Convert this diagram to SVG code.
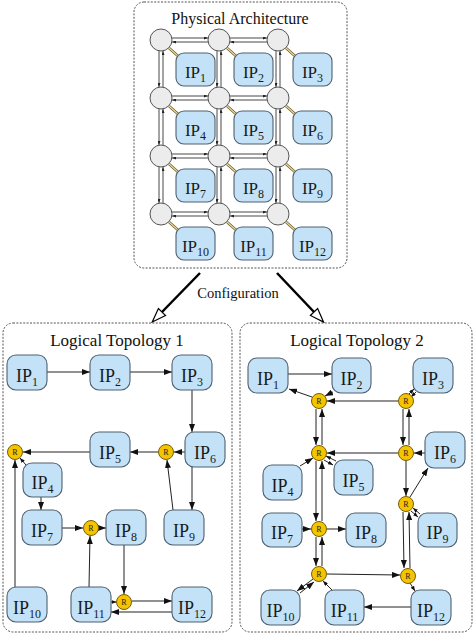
<svg xmlns="http://www.w3.org/2000/svg" width="474" height="635" viewBox="0 0 474 635" font-family="Liberation Serif, Tinos, Times New Roman, DejaVu Serif, Noto Serif, serif">
<style>
.frame{fill:#fff;stroke:#555;stroke-width:1;stroke-dasharray:2 1.4}
.title{font-size:17px;fill:#111;text-anchor:middle}
.ip rect{fill:#c3e2f7;stroke:#4f6070;stroke-width:1.1}
.ip text{font-size:18px;fill:#1a1a1a;text-anchor:middle}
.ip tspan{font-size:12px}
.pr circle{fill:#ececec;stroke:#555;stroke-width:1}
.r circle{fill:#f5c400;stroke:#7a5c00;stroke-width:1}
.r text{font-size:8px;fill:#222;text-anchor:middle}
.pl{stroke:#333;stroke-width:0.9;fill:none;marker-end:url(#ta)}
.pi1{stroke:#6a5a30;stroke-width:2.6;fill:none}
.pi2{stroke:#f0dc90;stroke-width:1.1;fill:none}
.e{stroke:#222;stroke-width:1;fill:none;marker-end:url(#a)}
.es{stroke:#222;stroke-width:1;fill:none;marker-end:url(#as)}
.cfg{stroke:#000;stroke-width:2.5;fill:none;marker-end:url(#h)}
</style>
<defs>
<marker id="a" markerUnits="userSpaceOnUse" markerWidth="8" markerHeight="6" refX="8" refY="3" orient="auto"><path d="M0,0 L8,3 L0,6 z" fill="#111"/></marker>
<marker id="as" markerUnits="userSpaceOnUse" markerWidth="5" markerHeight="4" refX="5" refY="2" orient="auto"><path d="M0,0 L5,2 L0,4 z" fill="#111"/></marker>
<marker id="ta" markerUnits="userSpaceOnUse" markerWidth="4" markerHeight="3" refX="4" refY="1.5" orient="auto"><path d="M0,0 L4,1.5 L0,3 z" fill="#222"/></marker>
<marker id="h" markerUnits="userSpaceOnUse" markerWidth="16" markerHeight="12" refX="1" refY="6" orient="auto"><path d="M1,1 L15,6 L1,11 z" fill="#fff" stroke="#000" stroke-width="1.2"/></marker>
</defs>

<g id="frames">
<rect class="frame" x="134" y="2" width="213" height="266" rx="10"/>
<rect class="frame" x="3" y="323" width="229" height="309" rx="10"/>
<rect class="frame" x="240" y="323" width="232" height="309" rx="10"/>
<text class="title" x="240" y="24" style="font-size:16px">Physical Architecture</text>
<text class="title" x="117" y="346">Logical Topology 1</text>
<text class="title" x="357" y="346">Logical Topology 2</text>
<text class="title" x="238" y="298" style="font-size:14.5px">Configuration</text>
</g>

<g id="connectors">
<line class="cfg" x1="200" y1="273" x2="162" y2="312"/>
<line class="cfg" x1="277" y1="273" x2="314" y2="312"/>

<line class="pl" x1="172" y1="38" x2="208" y2="38"/><line class="pl" x1="208" y1="42" x2="172" y2="42"/>
<line class="pl" x1="230" y1="38" x2="267" y2="38"/><line class="pl" x1="267" y1="42" x2="230" y2="42"/>
<line class="pl" x1="172" y1="96" x2="208" y2="96"/><line class="pl" x1="208" y1="100" x2="172" y2="100"/>
<line class="pl" x1="230" y1="96" x2="267" y2="96"/><line class="pl" x1="267" y1="100" x2="230" y2="100"/>
<line class="pl" x1="172" y1="154" x2="208" y2="154"/><line class="pl" x1="208" y1="158" x2="172" y2="158"/>
<line class="pl" x1="230" y1="154" x2="267" y2="154"/><line class="pl" x1="267" y1="158" x2="230" y2="158"/>
<line class="pl" x1="172" y1="212" x2="208" y2="212"/><line class="pl" x1="208" y1="216" x2="172" y2="216"/>
<line class="pl" x1="230" y1="212" x2="267" y2="212"/><line class="pl" x1="267" y1="216" x2="230" y2="216"/>
<line class="pl" x1="159" y1="51" x2="159" y2="87"/><line class="pl" x1="163" y1="87" x2="163" y2="51"/>
<line class="pl" x1="159" y1="109" x2="159" y2="145"/><line class="pl" x1="163" y1="145" x2="163" y2="109"/>
<line class="pl" x1="159" y1="167" x2="159" y2="203"/><line class="pl" x1="163" y1="203" x2="163" y2="167"/>
<line class="pl" x1="217" y1="51" x2="217" y2="87"/><line class="pl" x1="221" y1="87" x2="221" y2="51"/>
<line class="pl" x1="217" y1="109" x2="217" y2="145"/><line class="pl" x1="221" y1="145" x2="221" y2="109"/>
<line class="pl" x1="217" y1="167" x2="217" y2="203"/><line class="pl" x1="221" y1="203" x2="221" y2="167"/>
<line class="pl" x1="276" y1="51" x2="276" y2="87"/><line class="pl" x1="280" y1="87" x2="280" y2="51"/>
<line class="pl" x1="276" y1="109" x2="276" y2="145"/><line class="pl" x1="280" y1="145" x2="280" y2="109"/>
<line class="pl" x1="276" y1="167" x2="276" y2="203"/><line class="pl" x1="280" y1="203" x2="280" y2="167"/>
<path class="pi1" d="M169,48 L178,56 M227,48 L236,56 M286,48 L295,56 M169,106 L178,114 M227,106 L236,114 M286,106 L295,114 M169,164 L178,172 M227,164 L236,172 M286,164 L295,172 M169,222 L178,230 M227,222 L236,230 M286,222 L295,230"/>
<path class="pi2" d="M169,48 L178,56 M227,48 L236,56 M286,48 L295,56 M169,106 L178,114 M227,106 L236,114 M286,106 L295,114 M169,164 L178,172 M227,164 L236,172 M286,164 L295,172 M169,222 L178,230 M227,222 L236,230 M286,222 L295,230"/>

<line class="e" x1="47" y1="372" x2="90" y2="372"/>
<line class="e" x1="130" y1="372" x2="172" y2="372"/>
<line class="e" x1="192" y1="390" x2="192" y2="432"/>
<line class="e" x1="185" y1="452" x2="174" y2="452"/>
<line class="e" x1="158" y1="452" x2="130" y2="452"/>
<line class="e" x1="90" y1="452" x2="23" y2="452"/>
<line class="es" x1="26" y1="465" x2="20" y2="458"/>
<line class="e" x1="15" y1="587" x2="15" y2="460"/>
<line class="e" x1="41" y1="497" x2="41" y2="510"/>
<line class="e" x1="192" y1="467" x2="192" y2="510"/>
<line class="e" x1="173" y1="510" x2="167" y2="460"/>
<line class="e" x1="62" y1="528" x2="83" y2="528"/>
<line class="e" x1="99" y1="528" x2="106" y2="528"/>
<line class="e" x1="89" y1="587" x2="90" y2="536"/>
<line class="e" x1="124" y1="545" x2="124" y2="594"/>
<line class="e" x1="132" y1="601" x2="172" y2="601"/>
<line class="e" x1="172" y1="612" x2="111" y2="612"/>
<line class="es" x1="110" y1="602" x2="116.5" y2="602"/>

<line class="e" x1="288" y1="374" x2="332" y2="374"/>
<line class="e" x1="333" y1="392" x2="325" y2="396"/>
<line class="e" x1="312" y1="397" x2="289" y2="389"/>
<line class="e" x1="398" y1="401" x2="327" y2="401"/>
<line class="es" x1="416" y1="392" x2="411" y2="397"/>
<line class="es" x1="409" y1="394" x2="414" y2="389"/>
<line class="e" x1="316" y1="409" x2="316" y2="445"/>
<line class="e" x1="322" y1="445" x2="322" y2="409"/>
<line class="e" x1="403" y1="409" x2="403" y2="445"/>
<line class="e" x1="409" y1="445" x2="409" y2="409"/>
<line class="e" x1="398" y1="453" x2="327" y2="453"/>
<line class="e" x1="425" y1="453" x2="414" y2="453"/>
<line class="e" x1="300" y1="466" x2="313" y2="458"/>
<line class="es" x1="336" y1="461" x2="326" y2="456"/>
<line class="es" x1="324" y1="460" x2="333" y2="465"/>
<line class="e" x1="316" y1="461" x2="316" y2="521"/>
<line class="e" x1="322" y1="521" x2="322" y2="461"/>
<line class="e" x1="302" y1="529" x2="311" y2="529"/>
<line class="e" x1="327" y1="529" x2="346" y2="529"/>
<line class="e" x1="316" y1="537" x2="316" y2="566"/>
<line class="e" x1="322" y1="566" x2="322" y2="537"/>
<line class="e" x1="327" y1="574" x2="400" y2="575"/>
<line class="e" x1="313" y1="579" x2="297" y2="591"/>
<line class="e" x1="300" y1="593" x2="314" y2="582"/>
<line class="es" x1="333" y1="591" x2="323" y2="581"/>
<line class="e" x1="411" y1="607" x2="364" y2="607"/>
<line class="es" x1="410" y1="583" x2="415" y2="591"/>
<line class="e" x1="406" y1="461" x2="406" y2="496"/>
<line class="e" x1="410" y1="497" x2="428" y2="468"/>
<line class="es" x1="420" y1="514" x2="413" y2="508"/>
<line class="es" x1="411" y1="511" x2="418" y2="517"/>
<line class="e" x1="403" y1="512" x2="404" y2="568"/>
<line class="e" x1="410" y1="568" x2="409" y2="512"/>
</g>

<g id="pr-1-1" class="pr"><circle cx="161" cy="40" r="11"/></g>
<g id="pr-1-2" class="pr"><circle cx="219" cy="40" r="11"/></g>
<g id="pr-1-3" class="pr"><circle cx="278" cy="40" r="11"/></g>
<g id="pr-2-1" class="pr"><circle cx="161" cy="98" r="11"/></g>
<g id="pr-2-2" class="pr"><circle cx="219" cy="98" r="11"/></g>
<g id="pr-2-3" class="pr"><circle cx="278" cy="98" r="11"/></g>
<g id="pr-3-1" class="pr"><circle cx="161" cy="156" r="11"/></g>
<g id="pr-3-2" class="pr"><circle cx="219" cy="156" r="11"/></g>
<g id="pr-3-3" class="pr"><circle cx="278" cy="156" r="11"/></g>
<g id="pr-4-1" class="pr"><circle cx="161" cy="214" r="11"/></g>
<g id="pr-4-2" class="pr"><circle cx="219" cy="214" r="11"/></g>
<g id="pr-4-3" class="pr"><circle cx="278" cy="214" r="11"/></g>

<g id="p-ip1" class="ip"><rect x="176" y="53" width="39" height="33" rx="8"/><text x="195.5" y="78" style="font-size:17px">IP<tspan dy="4">1</tspan></text></g>
<g id="p-ip2" class="ip"><rect x="234" y="53" width="39" height="33" rx="8"/><text x="253.5" y="78" style="font-size:17px">IP<tspan dy="4">2</tspan></text></g>
<g id="p-ip3" class="ip"><rect x="293" y="53" width="39" height="33" rx="8"/><text x="312.5" y="78" style="font-size:17px">IP<tspan dy="4">3</tspan></text></g>
<g id="p-ip4" class="ip"><rect x="176" y="111" width="39" height="33" rx="8"/><text x="195.5" y="136" style="font-size:17px">IP<tspan dy="4">4</tspan></text></g>
<g id="p-ip5" class="ip"><rect x="234" y="111" width="39" height="33" rx="8"/><text x="253.5" y="136" style="font-size:17px">IP<tspan dy="4">5</tspan></text></g>
<g id="p-ip6" class="ip"><rect x="293" y="111" width="39" height="33" rx="8"/><text x="312.5" y="136" style="font-size:17px">IP<tspan dy="4">6</tspan></text></g>
<g id="p-ip7" class="ip"><rect x="176" y="169" width="39" height="33" rx="8"/><text x="195.5" y="194" style="font-size:17px">IP<tspan dy="4">7</tspan></text></g>
<g id="p-ip8" class="ip"><rect x="234" y="169" width="39" height="33" rx="8"/><text x="253.5" y="194" style="font-size:17px">IP<tspan dy="4">8</tspan></text></g>
<g id="p-ip9" class="ip"><rect x="293" y="169" width="39" height="33" rx="8"/><text x="312.5" y="194" style="font-size:17px">IP<tspan dy="4">9</tspan></text></g>
<g id="p-ip10" class="ip"><rect x="176" y="227" width="39" height="33" rx="8"/><text x="195.5" y="252" style="font-size:17px">IP<tspan dy="4">10</tspan></text></g>
<g id="p-ip11" class="ip"><rect x="234" y="227" width="39" height="33" rx="8"/><text x="253.5" y="252" style="font-size:17px">IP<tspan dy="4">11</tspan></text></g>
<g id="p-ip12" class="ip"><rect x="293" y="227" width="39" height="33" rx="8"/><text x="312.5" y="252" style="font-size:17px">IP<tspan dy="4">12</tspan></text></g>

<g id="t1-ip1" class="ip"><rect x="7" y="355" width="40" height="35" rx="9"/><text x="27" y="382">IP<tspan dy="4">1</tspan></text></g>
<g id="t1-ip2" class="ip"><rect x="90" y="355" width="40" height="35" rx="9"/><text x="110" y="382">IP<tspan dy="4">2</tspan></text></g>
<g id="t1-ip3" class="ip"><rect x="172" y="355" width="40" height="35" rx="9"/><text x="192" y="382">IP<tspan dy="4">3</tspan></text></g>
<g id="t1-ip5" class="ip"><rect x="90" y="432" width="40" height="35" rx="9"/><text x="110" y="459">IP<tspan dy="4">5</tspan></text></g>
<g id="t1-ip6" class="ip"><rect x="185" y="432" width="40" height="35" rx="9"/><text x="205" y="459">IP<tspan dy="4">6</tspan></text></g>
<g id="t1-ip4" class="ip"><rect x="23" y="463" width="39" height="34" rx="9"/><text x="42.5" y="489">IP<tspan dy="4">4</tspan></text></g>
<g id="t1-ip7" class="ip"><rect x="22" y="510" width="40" height="35" rx="9"/><text x="42" y="537">IP<tspan dy="4">7</tspan></text></g>
<g id="t1-ip8" class="ip"><rect x="106" y="510" width="40" height="35" rx="9"/><text x="126" y="537">IP<tspan dy="4">8</tspan></text></g>
<g id="t1-ip9" class="ip"><rect x="164" y="510" width="40" height="35" rx="9"/><text x="184" y="537">IP<tspan dy="4">9</tspan></text></g>
<g id="t1-ip10" class="ip"><rect x="7" y="587" width="40" height="35" rx="9"/><text x="27" y="614">IP<tspan dy="4">10</tspan></text></g>
<g id="t1-ip11" class="ip"><rect x="71" y="587" width="40" height="35" rx="9"/><text x="91" y="614">IP<tspan dy="4">11</tspan></text></g>
<g id="t1-ip12" class="ip"><rect x="172" y="587" width="40" height="35" rx="9"/><text x="192" y="614">IP<tspan dy="4">12</tspan></text></g>
<g id="t1-r1" class="r"><circle cx="15" cy="452" r="7.5"/><text x="15" y="455">R</text></g>
<g id="t1-r2" class="r"><circle cx="166" cy="452" r="7.5"/><text x="166" y="455">R</text></g>
<g id="t1-r3" class="r"><circle cx="91" cy="528" r="7.5"/><text x="91" y="531">R</text></g>
<g id="t1-r4" class="r"><circle cx="124" cy="602" r="7.5"/><text x="124" y="605">R</text></g>

<g id="t2-ip1" class="ip"><rect x="248" y="358" width="40" height="35" rx="9"/><text x="268" y="385">IP<tspan dy="4">1</tspan></text></g>
<g id="t2-ip2" class="ip"><rect x="332" y="358" width="39" height="35" rx="9"/><text x="351.5" y="385">IP<tspan dy="4">2</tspan></text></g>
<g id="t2-ip3" class="ip"><rect x="413" y="358" width="40" height="35" rx="9"/><text x="433" y="385">IP<tspan dy="4">3</tspan></text></g>
<g id="t2-ip6" class="ip"><rect x="425" y="432" width="40" height="36" rx="9"/><text x="445" y="459">IP<tspan dy="4">6</tspan></text></g>
<g id="t2-ip4" class="ip"><rect x="263" y="465" width="39" height="35" rx="9"/><text x="282.5" y="492">IP<tspan dy="4">4</tspan></text></g>
<g id="t2-ip5" class="ip"><rect x="334" y="460" width="39" height="35" rx="9"/><text x="353.5" y="487">IP<tspan dy="4">5</tspan></text></g>
<g id="t2-ip7" class="ip"><rect x="262" y="513" width="40" height="34" rx="9"/><text x="282" y="539">IP<tspan dy="4">7</tspan></text></g>
<g id="t2-ip8" class="ip"><rect x="346" y="513" width="40" height="34" rx="9"/><text x="366" y="539">IP<tspan dy="4">8</tspan></text></g>
<g id="t2-ip9" class="ip"><rect x="418" y="513" width="39" height="34" rx="9"/><text x="437.5" y="539">IP<tspan dy="4">9</tspan></text></g>
<g id="t2-ip10" class="ip"><rect x="261" y="590" width="39" height="35" rx="9"/><text x="280.5" y="617">IP<tspan dy="4">10</tspan></text></g>
<g id="t2-ip11" class="ip"><rect x="325" y="590" width="39" height="35" rx="9"/><text x="344.5" y="617">IP<tspan dy="4">11</tspan></text></g>
<g id="t2-ip12" class="ip"><rect x="411" y="590" width="40" height="35" rx="9"/><text x="431" y="617">IP<tspan dy="4">12</tspan></text></g>
<g id="t2-ra" class="r"><circle cx="319" cy="401" r="7.5"/><text x="319" y="404">R</text></g>
<g id="t2-rb" class="r"><circle cx="406" cy="401" r="7.5"/><text x="406" y="404">R</text></g>
<g id="t2-rc" class="r"><circle cx="319" cy="453" r="7.5"/><text x="319" y="456">R</text></g>
<g id="t2-rd" class="r"><circle cx="406" cy="453" r="7.5"/><text x="406" y="456">R</text></g>
<g id="t2-rf" class="r"><circle cx="406" cy="504" r="7.5"/><text x="406" y="507">R</text></g>
<g id="t2-re" class="r"><circle cx="319" cy="529" r="7.5"/><text x="319" y="532">R</text></g>
<g id="t2-rg" class="r"><circle cx="319" cy="574" r="7.5"/><text x="319" y="577">R</text></g>
<g id="t2-rh" class="r"><circle cx="408" cy="576" r="7.5"/><text x="408" y="579">R</text></g>
</svg>
